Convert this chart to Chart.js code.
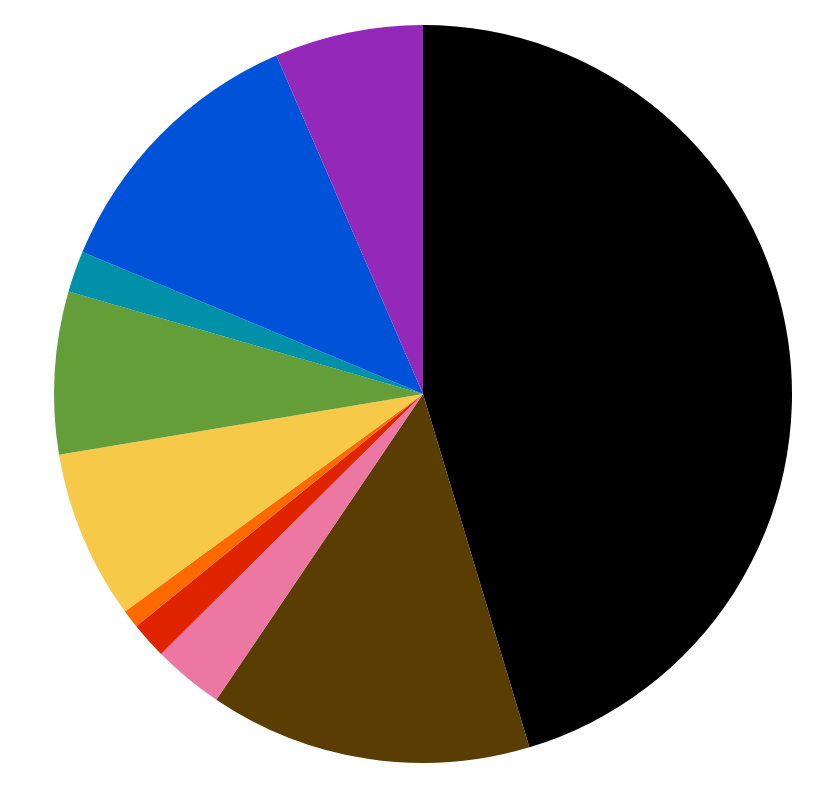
<!DOCTYPE html>
<html>
<head>
<meta charset="utf-8">
<script src="https://cdn.jsdelivr.net/npm/chart.js@4"></script>
<style>
html,body{margin:0;padding:0;background:#fff;}
#wrap{width:831px;height:799px;}
</style>
</head>
<body>
<div id="wrap"><canvas id="c" width="831" height="799"></canvas></div>
<script>
const categories = ["A","B","C","D","E","F","G","H","I","J"];
const values = [45.3, 14.1, 3.1, 1.6, 0.8, 7.4, 7.1, 1.8, 12.2, 6.5];
const colors = ["#000000","#5a3d02","#ec77a2","#e12400","#ff6a00","#f7c948","#639e38","#0090a8","#0052d8","#9328b9"];

new Chart(document.getElementById('c'), {
  type: 'pie',
  data: {
    labels: categories,
    datasets: [{ data: values, backgroundColor: colors, borderWidth: 0 }]
  },
  options: {
    responsive: false,
    animation: false,
    layout: { padding: { top: 25, bottom: 36, left: 54, right: 39 } },
    plugins: { legend: { display: false }, tooltip: { enabled: false } }
  }
});
</script>
</body>
</html>
